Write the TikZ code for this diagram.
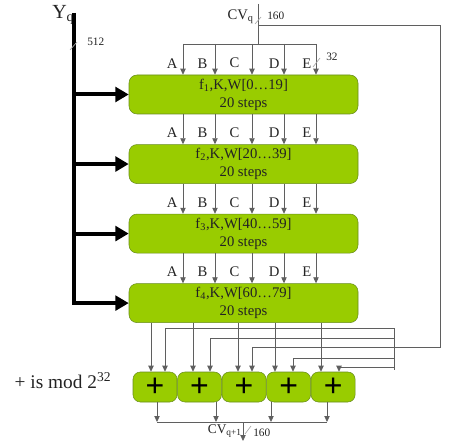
\documentclass[tikz,border=0pt]{standalone}
\usepackage{fontspec}
\setmainfont{Liberation Serif}
\newfontfamily\plusfont{Liberation Sans}
\usetikzlibrary{arrows.meta,positioning,calc}
\definecolor{roundgreen}{RGB}{153,204,0}
\definecolor{roundedge}{RGB}{104,140,30}
\definecolor{wiregray}{RGB}{95,95,95}
\definecolor{inkgray}{RGB}{35,35,35}
\definecolor{slashgray}{RGB}{170,170,170}

\tikzset{
  roundbox/.style={draw=roundedge, fill=roundgreen, rounded corners=6pt,
    minimum width=171.75pt, minimum height=29.25pt, align=center, inner sep=0pt,
    font=\fontsize{11}{13.5}\selectfont, text=inkgray},
  addbox/.style={draw=roundedge, fill=roundgreen, rounded corners=5.5pt,
    minimum width=33pt, minimum height=22.5pt, inner sep=0pt,
    font=\plusfont\fontsize{24}{24}\selectfont, text=black},
  wire/.style={draw=wiregray, line width=0.6pt},
  wirearr/.style={wire, -{Triangle[length=4.5pt,width=4pt]}},
  ybus/.style={line width=3pt, black, line join=miter},
  yarr/.style={ybus, -{Triangle[length=10pt,width=11pt]}},
  reglbl/.style={font=\fontsize{11}{11}\selectfont, text=inkgray, inner sep=1pt, anchor=south east},
  widthlbl/.style={font=\fontsize{8.5}{8.5}\selectfont, text=inkgray, inner sep=0pt},
  slash/.style={draw=slashgray, line width=0.5pt},
}

\begin{document}
\begin{tikzpicture}[x=0.75pt, y=-0.75pt]
  \useasboundingbox (0,0) rectangle (474,441);

  % the four rounds
  \node[roundbox] (f1) at (243.5,94.5) {f\textsubscript{1},K,W[0…19]\\20 steps};
  \node[roundbox, below=22.5pt of f1] (f2) {f\textsubscript{2},K,W[20…39]\\20 steps};
  \node[roundbox, below=22.5pt of f2] (f3) {f\textsubscript{3},K,W[40…59]\\20 steps};
  \node[roundbox, below=22.5pt of f3] (f4) {f\textsubscript{4},K,W[60…79]\\20 steps};

  % the five adders
  \node[addbox] (s1) at (155,387) {+};
  \node[addbox, right=0pt of s1] (s2) {+};
  \node[addbox, right=0pt of s2] (s3) {+};
  \node[addbox, right=0pt of s3] (s4) {+};
  \node[addbox, right=0pt of s4] (s5) {+};

  % register columns A..E
  \foreach \name/\xx in {cA/183,cB/215,cC/252,cD/284,cE/316}
    \coordinate (\name) at (\xx,0);

  % CV_q in
  \coordinate (cvq) at (258,4);
  \coordinate (cvsplit) at (258,25);
  \coordinate (cvbus) at (258,44);
  \draw[wire] (cvq) -- (cvbus);
  \draw[wire] (cA |- cvbus) -- (cE |- cvbus);
  \foreach \c in {cA,cB,cC,cD,cE}
    \draw[wirearr] (\c |- cvbus) -- (\c |- f1.north);
  \node[anchor=east, inner sep=0pt, text=inkgray, font=\fontsize{11}{11}\selectfont] (cvlbl) at (254,17) {CV\textsubscript{q}};
  \node[widthlbl, anchor=west] (w160) at (267,16) {160};
  \draw[slash] (255,24) -- (261,17);
  \node[widthlbl, anchor=west] (w32) at (326,57) {32};
  \draw[slash] (313,67) -- (320,58);

  % between the rounds
  \foreach \up/\dn in {f1/f2,f2/f3,f3/f4}
    \foreach \c in {cA,cB,cC,cD,cE}
      \draw[wirearr] (\c |- \up.south) -- (\c |- \dn.north);
  \foreach \f in {f1,f2,f3,f4}
    \foreach \c/\l/\g in {cA/A/4,cB/B/6,cC/C/11,cD/D/3,cE/E/3}
      \node[reglbl] at ($(\c |- \f.north)+(-\g,-5)$) {\l};

  % Y_q message block
  \coordinate (yq) at (74,13);
  \node[anchor=north west, inner sep=0pt, text=inkgray, font=\fontsize{15}{15}\selectfont] (ylbl) at (52,5) {Y\textsubscript{q}};
  \draw[yarr] (yq) -- (yq |- f4.west) -- (f4.west);
  \foreach \f in {f1,f2,f3}
    \draw[yarr] (yq |- \f.west) -- (\f.west);
  \node[widthlbl, anchor=west] (w512) at (87,42) {512};
  \draw[slash] (70,50) -- (77,42);

  % round outputs into the adders
  \foreach \xx/\s in {151/s1,193/s2,238/s3,275/s4,321/s5} {
    \coordinate (rout) at (\xx,0);
    \draw[wirearr] (rout |- f4.south) -- (rout |- \s.north);
  }

  % feed forward of CV_q
  \coordinate (fftop) at (394,328);
  \coordinate (ffbot) at (394,370);
  \draw[wire] (fftop) -- (ffbot);
  \foreach \xx/\yy/\s in {165/328/s1,210/338/s2,293/358/s4,339/367/s5} {
    \coordinate (ffin) at (\xx,\yy);
    \draw[wirearr] (fftop |- ffin) -- (ffin) -- (ffin |- \s.north);
  }
  \coordinate (fbright) at (440,25);
  \coordinate (fbturn) at (440,347);
  \coordinate (ffin3) at (252,347);
  \draw[wirearr] (cvsplit) -- (fbright) -- (fbturn) -- (ffin3) -- (ffin3 |- s3.north);

  % CV_q+1 out
  \foreach \xx/\s in {157/s1,216/s2,271/s4,327/s5} {
    \coordinate (sout) at (\xx,422);
    \draw[wirearr] (sout |- \s.south) -- (sout);
  }
  \coordinate (obl) at (157,422);
  \coordinate (obr) at (327,422);
  \draw[wire] (obl) -- (obr);
  \coordinate (cvo) at (243,422);
  \coordinate (cvend) at (243,441);
  \draw[wirearr] (cvo) -- (cvend);
  \node[anchor=east, inner sep=0pt, text=inkgray, font=\fontsize{10}{10}\selectfont] (cvolbl) at (242,431) {CV\textsubscript{q+1}};
  \node[widthlbl, anchor=west] (w160b) at (253,433) {160};
  \draw[slash] (245,434) -- (251,426);

  % note
  \node[inner sep=0pt, text=inkgray, font=\fontsize{14.5}{14.5}\selectfont] (modnote) at (63,381) {+ is mod 2\textsuperscript{32}};
\end{tikzpicture}
\end{document}
